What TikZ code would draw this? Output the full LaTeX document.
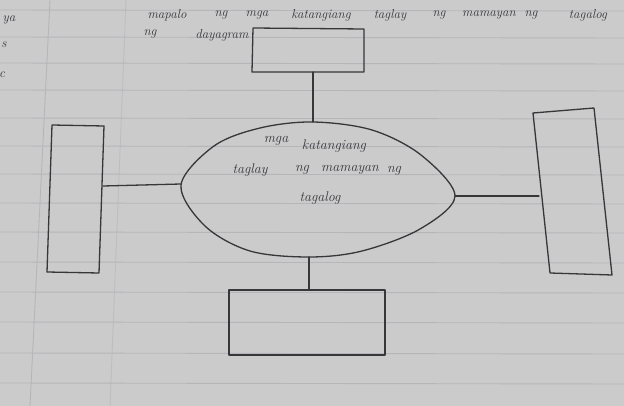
\documentclass[tikz,border=0pt]{standalone}
\usetikzlibrary{calc}
\definecolor{paper}{RGB}{203,203,203}
\definecolor{rule}{RGB}{182,182,186}
\definecolor{pencil}{RGB}{55,55,58}
\definecolor{writing}{RGB}{55,55,60}
\tikzset{
  pen/.style={draw=pencil, line width=1.3pt, line join=round, line cap=round},
  ruled/.style={draw=rule, line width=0.9pt},
  hand/.style={text=writing, font=\itshape\fontsize{13}{15}\selectfont, inner sep=0pt},
  handbig/.style={hand, font=\itshape\fontsize{14}{16}\selectfont},
}
\begin{document}
\begin{tikzpicture}[x=1pt,y=-1pt]
\useasboundingbox (0,0) rectangle (624,406);
\fill[paper] (0,0) rectangle (624,406);
% ruled paper
\foreach \yy in {10,37,63,90,118,146,174,203,232,262,292,322,353,383}
  \draw[ruled] (0,\yy) -- (624,\yy+1);
\draw[ruled] (50,0) -- (30,406);
\draw[ruled, draw opacity=0.6] (126,0) -- (110,406);

% margin scraps
\node[hand] (m1) at (9,20) {ya};
\node[hand] (m2) at (4,45) {s};
\node[hand] (m3) at (2,75) {c};

% instruction line
\foreach \w/\x [count=\i] in {mapalo/167, ng/221, mga/257, katangiang/321, taglay/390, ng/439, mamayan/489, ng/531, tagalog/588}
  \node[hand] (t\i) at (\x,15) {\w};
\node[hand] (u1) at (150,34) {ng};
\node[hand] (u2) at (222,35) {dayagram};

% boxes
\draw[pen] (253,28) coordinate (topTL) -- (364,29) -- (364,72) coordinate (topBR) -- (252,72) -- cycle;
\coordinate (topS) at (313,72);

\draw[pen] (52,125) -- (104,126) -- (99,273) -- (47,272) -- cycle;
\coordinate (leftE) at (103,186);

\draw[pen] (533,113) -- (594,108) -- (612,275) -- (550,273) -- cycle;
\coordinate (rightW) at (539,196);

\draw[pen] (229,290) -- (385,290) -- (385,355) -- (229,355) -- cycle;
\coordinate (botN) at (309,290);

% central leaf-shaped ellipse
\draw[pen] plot[smooth cycle, tension=0.55] coordinates {
  (181,185) (214,146) (260,128) (313,122) (372,130) (421,155) (455,196)
  (420,229) (362,251) (309,257) (250,251) (205,226)};
\coordinate (eN) at (313,122);
\coordinate (eW) at (181,184);
\coordinate (eE) at (455,196);
\coordinate (eS) at (309,257);

% connectors
\draw[pen] (topS) -- (eN);
\draw[pen] (leftE) -- (eW);
\draw[pen] (eE) -- (rightW);
\draw[pen] (eS) -- (botN);

% ellipse text
\node[handbig] (c1) at (276,141) {mga};
\node[handbig] (c2) at (334,146) {katangiang};
\node[handbig] (c3) at (250,170) {taglay};
\node[handbig] (c4) at (302,170) {ng};
\node[handbig] (c5) at (350,170) {mamayan};
\node[handbig] (c6) at (394,171) {ng};
\node[handbig] (c7) at (320,198) {tagalog};
\end{tikzpicture}
\end{document}
